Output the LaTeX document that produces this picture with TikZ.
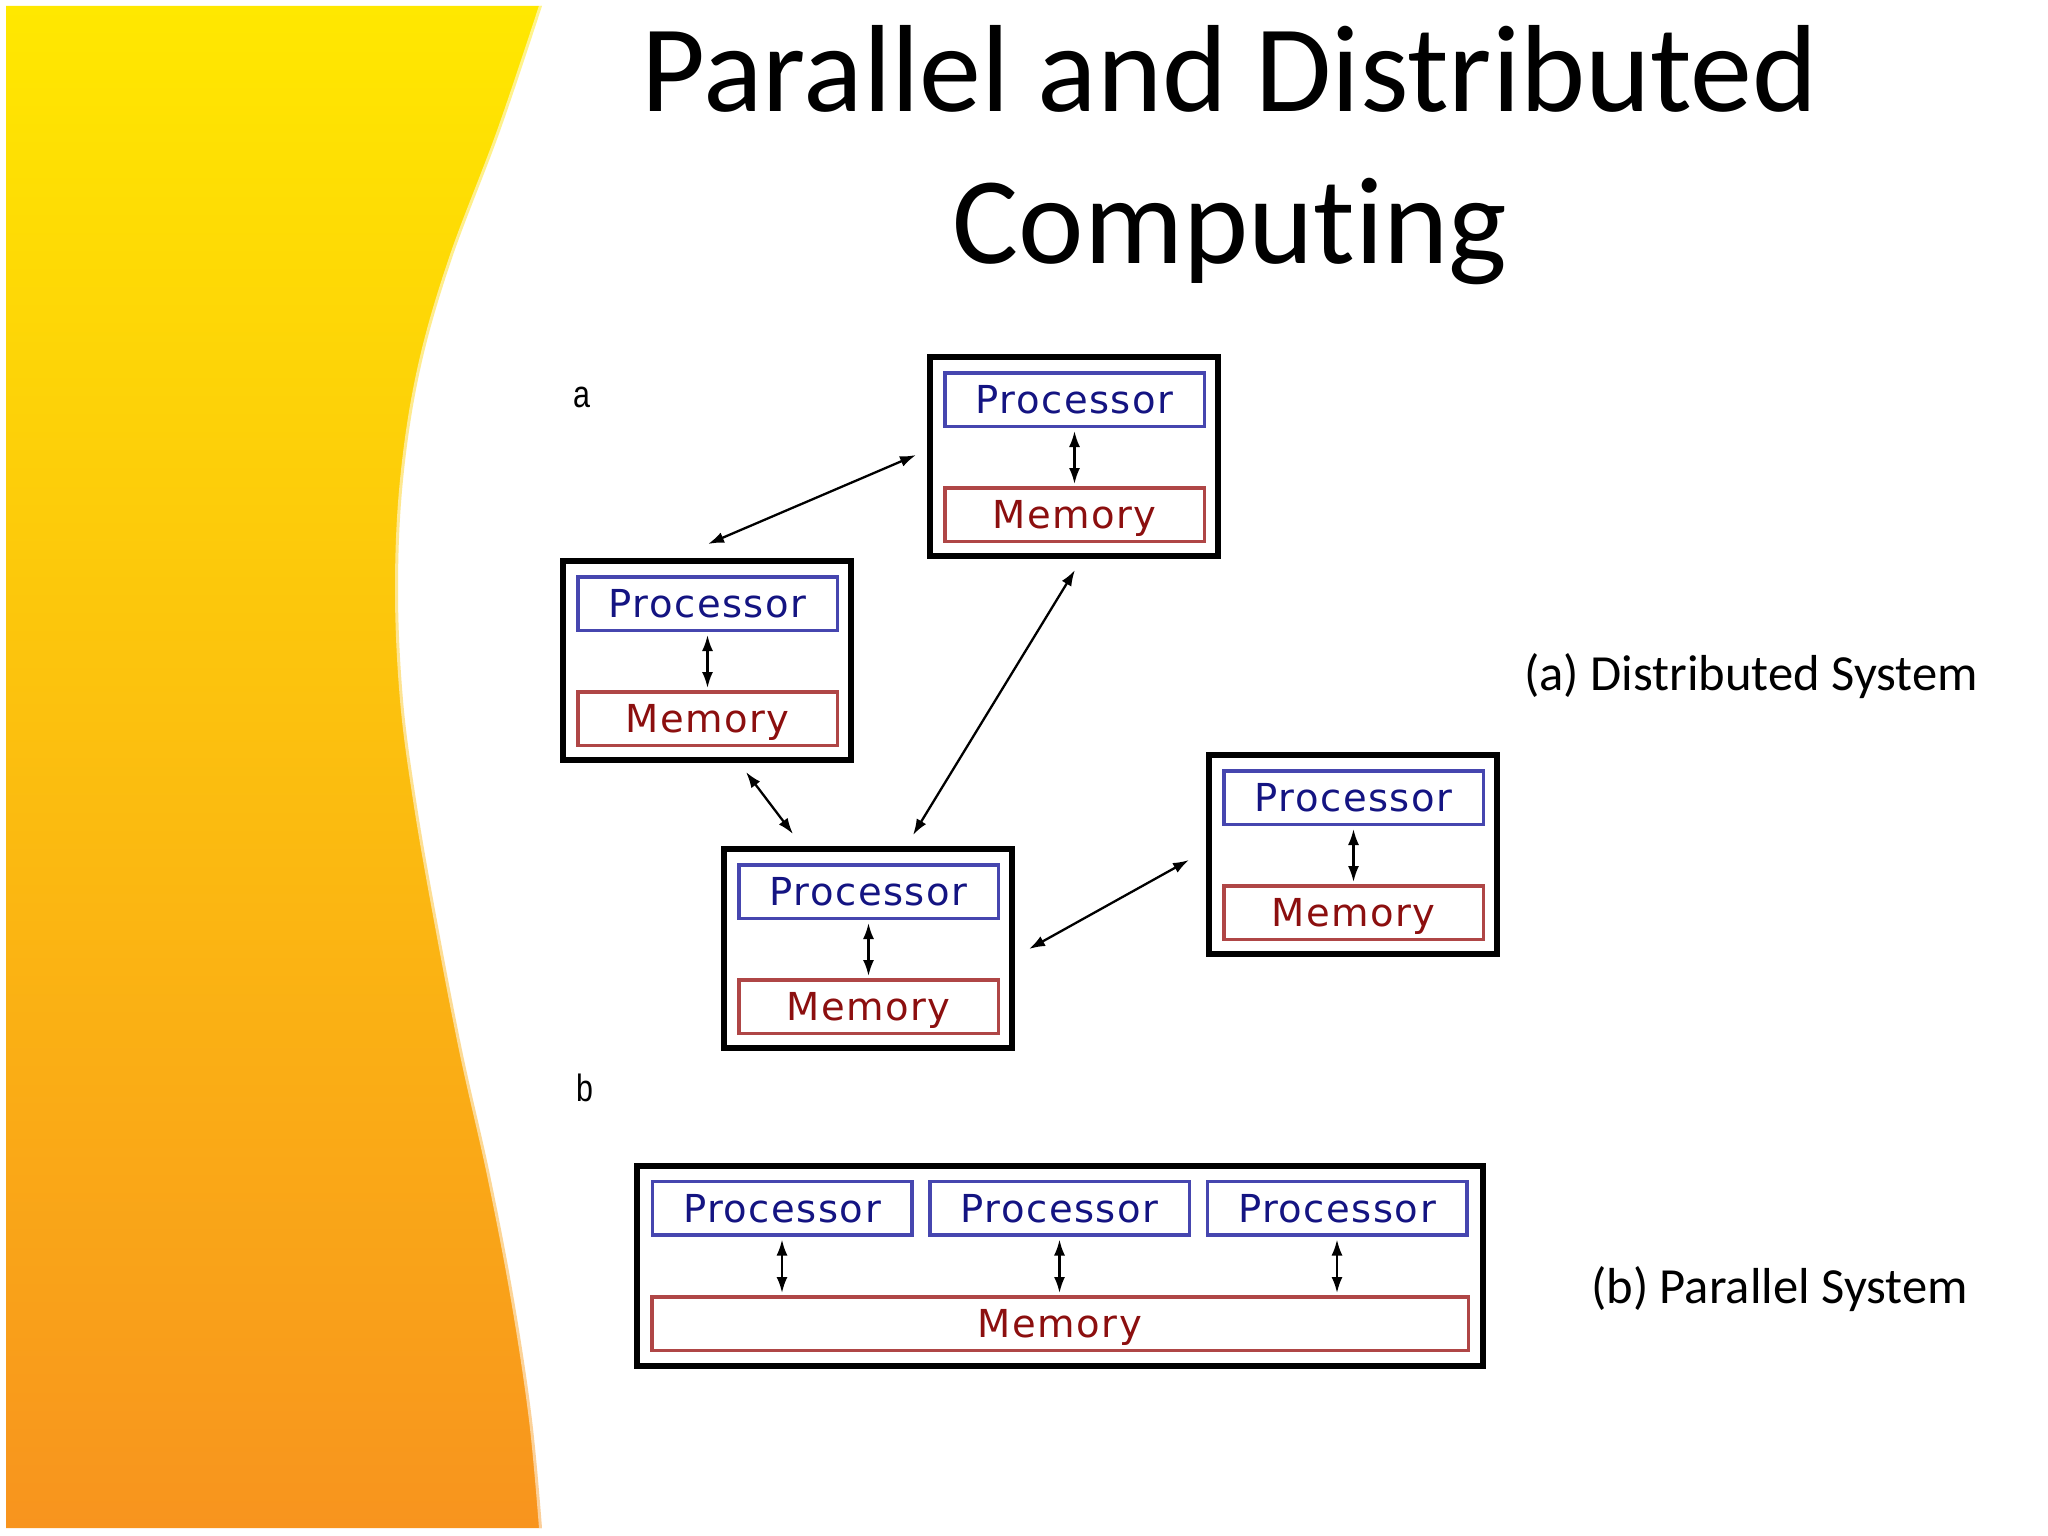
\documentclass[tikz,border=0pt]{standalone}
\usepackage{fontspec}
\usetikzlibrary{arrows.meta,calc}
\newfontfamily\titlefont[Ligatures={NoCommon,NoRare,NoContextual}]{Carlito}
\newfontfamily\boxfont[LetterSpace=4]{DejaVu Sans}
\newfontfamily\letterfont{Liberation Sans}
\definecolor{bgtop}{RGB}{255,232,0}
\definecolor{bgbot}{RGB}{248,148,30}
\definecolor{procline}{RGB}{70,70,175}
\definecolor{proctext}{RGB}{20,20,130}
\definecolor{memline}{RGB}{175,70,70}
\definecolor{memtext}{RGB}{140,15,15}
\tikzset{
  outerbox/.style={draw=black, line width=6pt, fill=white, minimum width=288pt, minimum height=199pt, inner sep=0pt},
  innerbox/.style={line width=3.5pt, minimum width=259.5pt, minimum height=53.5pt, inner sep=0pt, text height=28pt, text depth=0pt, font=\boxfont\fontsize{38.5}{40}\selectfont},
  procbox/.style={innerbox, draw=procline, text=proctext},
  membox/.style={innerbox, draw=memline, text=memtext},
  biarrow/.style={line width=2.3pt, {Latex[length=16pt,width=11pt]}-{Latex[length=16pt,width=11pt]}},
  titletext/.style={font=\titlefont\fontsize{124}{150}\selectfont, anchor=base, inner sep=0pt},
  captext/.style={font=\titlefont\fontsize{50.6}{60}\selectfont, anchor=base west, inner sep=0pt},
  lettertext/.style={font=\letterfont\fontsize{38}{40}\selectfont, anchor=base west, inner sep=0pt, xscale=0.8}
}
\newcommand\distunit[3]{%
  \node[outerbox] (#1) at ({#2+147},{#3+102.5}) {};
  \node[procbox] (#1p) at ({#2+147.5},{#3+45.5}) {Processor};
  \node[membox] (#1m) at ({#2+147.5},{#3+160.5}) {Memory};
  \draw[biarrow] ([yshift=-3pt]#1p.south) -- ([yshift=2pt]#1m.north);
}
\begin{document}
\begin{tikzpicture}[x=1pt,y=-1pt]
\useasboundingbox (0,0) rectangle (2048,1536);
\fill[white] (0,0) rectangle (2048,1536);
% background shape
\shade[top color=bgtop, bottom color=bgbot]
  (6,6) -- plot[smooth, tension=0.6] coordinates {(542,6) (500,131) (451,261) (420,370) (403,480) (398,590) (403,700) (416,800) (435,910) (462,1050) (490,1175) (514,1300) (532,1420) (542,1528)}
  -- (6,1528) -- cycle;
\draw[white, opacity=0.55, line width=6pt]
  plot[smooth, tension=0.6] coordinates {(542,6) (500,131) (451,261) (420,370) (403,480) (398,590) (403,700) (416,800) (435,910) (462,1050) (490,1175) (514,1300) (532,1420) (542,1528)};
% title
\node[titletext] (t1) at (1230,112) {Parallel and Distributed};
\node[titletext] (t2) at (1230,263) {Computing};
% labels
\node[lettertext] (la) at (573,407) {a};
\node[lettertext] (lb) at (576,1101) {b};
\node[captext] (capa) at (1524,690) {(a) Distributed System};
\node[captext] (capb) at (1591,1303) {(b) Parallel System};
% distributed system
\distunit{A}{927}{354}
\distunit{B}{560}{558}
\distunit{C}{721}{846}
\distunit{D}{1206}{752}
\draw[biarrow] ($(B.north)+(1,-14)$) -- ($(A.west)+(-11,-1.5)$);
\draw[biarrow] ($(A.south)+(1,11)$) -- ($(C.north)+(45,-11)$);
\draw[biarrow] ($(B.south)+(39,9)$) -- ($(C.north)+(-75,-12)$);
\draw[biarrow] ($(C.east)+(14,0.5)$) -- ($(D.west)+(-17,5.5)$);
% parallel system
\node[outerbox, minimum width=846pt, minimum height=200pt] (P) at (1060,1266) {};
\node[procbox] (P1) at (782,1208) {Processor};
\node[procbox] (P2) at (1059.5,1208) {Processor};
\node[procbox] (P3) at (1337,1208) {Processor};
\node[membox, minimum width=816.5pt] (PM) at (1060,1323.5) {Memory};
\coordinate (m1) at (P1.south |- PM.north);
\coordinate (m2) at (P2.south |- PM.north);
\coordinate (m3) at (P3.south |- PM.north);
\draw[biarrow] ([yshift=-3pt]P1.south) -- ([yshift=2pt]m1);
\draw[biarrow] ([yshift=-3pt]P2.south) -- ([yshift=2pt]m2);
\draw[biarrow] ([yshift=-3pt]P3.south) -- ([yshift=2pt]m3);
\end{tikzpicture}
\end{document}
